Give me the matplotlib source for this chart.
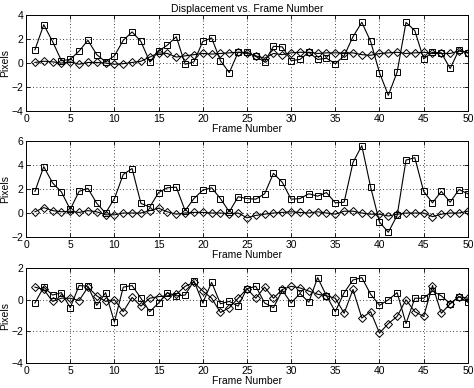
import numpy as np
import matplotlib
matplotlib.use('Agg')
import matplotlib.pyplot as plt

plt.rcParams['font.family'] = ['Liberation Sans', 'DejaVu Sans']
plt.rcParams['font.size'] = 7.5

# Datos
frames = np.arange(1, 51)

p1_sq = [1.1, 3.2, 1.8, 0.2, 0.3, 1.0, 1.9, 0.7, 0.1, 0.6,
         1.9, 2.6, 1.8, 0.1, 1.0, 1.5, 2.2, -0.1, 0.1, 1.8,
         2.1, 0.2, -0.8, 0.9, 0.9, 0.55, 0.1, 1.4, 1.35, 0.2,
         0.3, 0.9, 0.3, 0.4, -0.05, 0.6, 2.2, 3.4, 1.8, -0.8,
         -2.7, -0.75, 3.4, 2.7, 0.35, 0.9, 0.85, -0.45, 1.1, 0.85]
p1_di = [0.05, 0.15, 0.1, 0.0, 0.1, -0.1, 0.05, 0.05, 0.0, -0.1,
         -0.05, 0.05, 0.15, 0.5, 0.85, 0.8, 0.5, 0.6, 0.7, 0.8,
         0.75, 0.8, 0.85, 0.9, 0.8, 0.6, 0.4, 0.8, 0.7, 0.85,
         0.9, 0.9, 0.8, 0.85, 0.85, 0.85, 0.85, 0.7, 0.65, 0.8,
         0.85, 0.9, 0.8, 0.85, 0.9, 0.8, 0.8, 0.8, 1.0, 0.85]

p2_sq = [1.8, 3.85, 2.5, 1.75, 0.3, 1.8, 2.05, 0.8, 0.0, 1.2,
         3.2, 3.7, 0.8, 0.5, 1.7, 2.1, 2.15, 0.2, 1.2, 1.9,
         2.1, 1.2, 0.1, 1.35, 1.2, 1.15, 1.6, 3.3, 2.55, 1.15,
         1.2, 1.6, 1.4, 1.7, 0.85, 0.9, 4.2, 5.6, 2.15, -0.75,
         -1.6, -0.2, 4.4, 4.6, 1.8, 0.85, 1.8, 0.9, 1.95, 1.6]
p2_di = [0.1, 0.45, 0.2, 0.1, 0.15, 0.05, 0.2, 0.1, -0.15, -0.15,
         0.0, 0.0, 0.0, 0.2, 0.4, 0.1, -0.1, 0.0, 0.05, 0.05,
         0.0, 0.0, -0.05, 0.0, -0.4, -0.2, -0.1, 0.0, 0.05, 0.1,
         0.05, 0.0, 0.1, 0.0, -0.1, 0.15, 0.15, 0.0, -0.1, -0.1,
         -0.25, -0.1, 0.0, 0.0, 0.0, -0.3, -0.1, 0.0, 0.0, 0.15]

p3_sq = [-0.2, 0.8, 0.3, 0.45, -0.5, 0.9, 0.85, -0.35, 0.45, -1.4,
         0.8, 0.9, 0.1, -0.75, -0.2, 0.45, 0.25, 0.3, 1.2, -0.2,
         1.1, -0.25, -0.1, -0.4, 0.7, 0.85, -0.2, -0.5, 0.6, -0.2,
         0.4, -0.15, 1.4, 0.25, -0.75, 0.45, 1.25, 1.4, 0.35, -0.35,
         0.0, 0.45, -1.5, 0.1, 0.1, 0.55, 0.25, -0.25, 0.2, -0.15]
p3_di = [0.8, 0.65, -0.1, 0.1, 0.1, -0.05, 0.8, 0.25, -0.1, 0.0,
         -0.75, 0.15, -0.4, 0.1, 0.2, 0.25, 0.35, 0.85, 1.1, 0.55,
         0.1, -0.8, -0.5, 0.1, 0.7, 0.1, 0.8, 0.1, 0.65, 0.85,
         0.75, 0.55, 0.35, 0.25, 0.1, -0.85, 0.65, -1.15, -0.75, -2.1,
         -1.5, -1.05, 0.0, -0.75, -1.05, 0.9, -0.85, -0.25, 0.2, 0.1]

paneles = [
    (p1_sq, p1_di, (-4, 4), [-4, -2, 0, 2, 4]),
    (p2_sq, p2_di, (-2, 6), [-2, 0, 2, 4, 6]),
    (p3_sq, p3_di, (-4, 2), [-4, -2, 0, 2]),
]

fig = plt.figure(figsize=(4.74, 3.88), dpi=100)

# posiciones [izq, abajo, ancho, alto]
posiciones = [
    [0.055, 0.714, 0.932, 0.247],
    [0.055, 0.389, 0.932, 0.248],
    [0.055, 0.064, 0.932, 0.245],
]

for i, (sq, di, ylim, yticks) in enumerate(paneles):
    ax = fig.add_axes(posiciones[i])
    ax.plot(frames, sq, color='black', linewidth=0.8, marker='s',
            markersize=4.5, markerfacecolor='none', markeredgewidth=0.7)
    ax.plot(frames, di, color='black', linewidth=0.8, marker='D',
            markersize=4.5, markerfacecolor='none', markeredgewidth=0.7)
    ax.set_xlim(0, 50)
    ax.set_ylim(*ylim)
    ax.set_xticks(range(0, 51, 5))
    ax.set_yticks(yticks)
    ax.set_yticklabels([str(t).replace('-', '\u2212') for t in yticks])
    ax.grid(True, color='black', linestyle=(0, (1, 3)), linewidth=0.6)
    ax.tick_params(direction='in', length=3, width=0.6, pad=2,
                   top=True, right=True)
    for s in ax.spines.values():
        s.set_linewidth(0.7)
    ax.set_xlabel('Frame Number', labelpad=0)
    ax.set_ylabel('Pixels', labelpad=1)
    if i == 0:
        ax.set_title('Displacement vs. Frame Number', pad=2, fontsize=7.5)

fig.savefig('out.png', dpi=100)
